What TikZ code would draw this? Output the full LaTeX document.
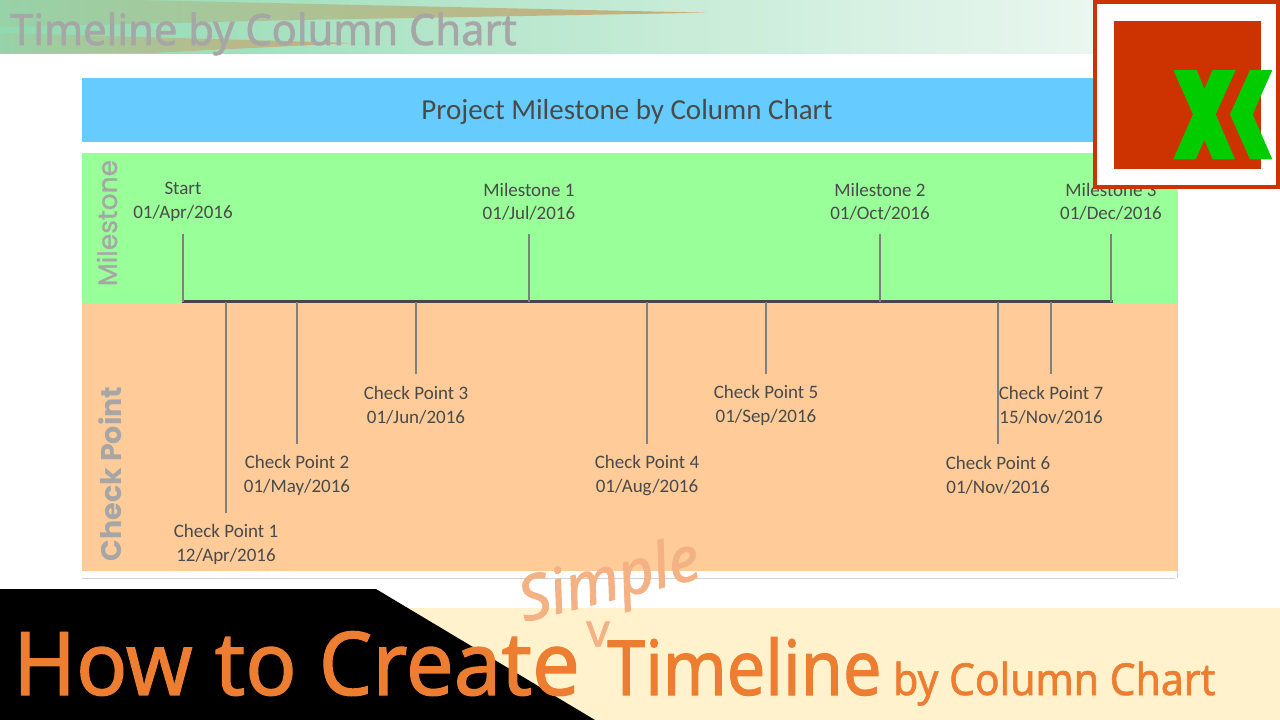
\documentclass[tikz,border=0pt]{standalone}
\usepackage{fontspec}
\setmainfont{Carlito}
\newfontfamily\headfont[FakeBold=1.4]{Noto Sans}
\newfontfamily\sidefont[FakeBold=1.0]{Poppins}
\newfontfamily\checkfont{Poppins}
\definecolor{bandblue}{HTML}{66CCFF}
\definecolor{bandgreen}{HTML}{99FF99}
\definecolor{bandorange}{HTML}{FFCC99}
\definecolor{logored}{HTML}{CC3300}
\definecolor{logogreen}{HTML}{00CC00}
\definecolor{titleorange}{HTML}{ED7D31}
\definecolor{paleorange}{HTML}{F4B183}
\definecolor{cream}{HTML}{FFF2CC}
\definecolor{sidegrey}{HTML}{A6A6A6}
\definecolor{inkgrey}{HTML}{4A4A4A}
\definecolor{topleft}{HTML}{8FD9B0}
\definecolor{topright}{HTML}{EAF7F0}
\definecolor{wedgeleft}{HTML}{98D2A8}
\definecolor{wedgeright}{HTML}{C9AC78}
\tikzset{
  datebox/.style={inner sep=0pt, minimum height=63pt, align=center, text=inkgrey,
    font=\fontsize{19}{23.5}\selectfont},
  stem/.style={draw=black!50, line width=1.4pt},
  sidetext/.style={rotate=90, text=sidegrey, inner sep=0pt},
  bighead/.style={text=titleorange, inner sep=0pt, anchor=base west}
}
\begin{document}
\begin{tikzpicture}[x=1pt, y=-1pt]
\useasboundingbox (0,0) rectangle (1280,720);
\fill[white] (0,0) rectangle (1280,720);

% top band
\shade[left color=topleft, right color=topright] (0,0) rectangle (1100,53);
\shade[left color=wedgeleft, right color=wedgeright]
  (0,-3) -- (707,12.7) -- (300,20) -- (0,27) -- cycle;
\shade[left color=wedgeleft, right color=wedgeright]
  (0,33) -- (353,43) -- (150,53) -- (0,53) -- cycle;
\node[text=sidegrey, inner sep=0pt, anchor=base west, xscale=0.97] (bandtitle) at (10,45)
  {\headfont\fontsize{43}{43}\selectfont Timeline by Column Chart};

% chart panels
\fill[bandblue] (82,78) rectangle (1177,142);
\fill[bandgreen] (82,153) rectangle (1177,303);
\fill[bandorange] (82,303) rectangle (1177,571);
\draw[black!18, line width=1pt] (82,578.5) -- (1175,578.5);
\draw[black!18, line width=1pt] (1177.5,190) -- (1177.5,578);
\node[text=inkgrey, inner sep=0pt] (charttitle) at (627,112)
  {\fontsize{29}{30}\selectfont Project Milestone by Column Chart};
\node[sidetext, font=\sidefont\fontsize{26.5}{27}\selectfont] (sidemile) at (107,223) {Milestone};
\node[sidetext, font=\checkfont\bfseries\fontsize{28.5}{28}\selectfont] (sidecheck) at (110,474) {Check Point};

% axis
\coordinate (axisl) at (182,301.5);
\coordinate (axisr) at (1113,301.5);
\draw[black!72, line width=2.4pt] (axisl) -- (axisr);

% milestones
\node[datebox] (start) at (183,202) {Start\\01/Apr/2016};
\node[datebox] (mileone) at (529,202) {Milestone 1\\01/Jul/2016};
\node[datebox] (miletwo) at (880,202) {Milestone 2\\01/Oct/2016};
\node[datebox] (milethree) at (1111,202) {Milestone 3\\01/Dec/2016};
\draw[stem] (start.south) -- (start.south |- axisl);
\draw[stem] (mileone.south) -- (mileone.south |- axisl);
\draw[stem] (miletwo.south) -- (miletwo.south |- axisl);
\draw[stem] (milethree.south) -- (milethree.south |- axisl);

% check points
\node[datebox] (cpone) at (226,544.5) {Check Point 1\\12/Apr/2016};
\node[datebox] (cptwo) at (297,475.5) {Check Point 2\\01/May/2016};
\node[datebox] (cpthree) at (416,405.5) {Check Point 3\\01/Jun/2016};
\node[datebox] (cpfour) at (647,475.5) {Check Point 4\\01/Aug/2016};
\node[datebox] (cpfive) at (766,405.5) {Check Point 5\\01/Sep/2016};
\node[datebox] (cpsix) at (998,475.5) {Check Point 6\\01/Nov/2016};
\node[datebox] (cpseven) at (1051,405.5) {Check Point 7\\15/Nov/2016};
\draw[stem] (cpone.north) -- (cpone.north |- axisl);
\draw[stem] (cptwo.north) -- (cptwo.north |- axisl);
\draw[stem] (cpthree.north) -- (cpthree.north |- axisl);
\draw[stem] (cpfour.north) -- (cpfour.north |- axisl);
\draw[stem] (cpfive.north) -- (cpfive.north |- axisl);
\draw[stem] (cpsix.north) -- (cpsix.north |- axisl);
\draw[stem] (cpseven.north) -- (cpseven.north |- axisl);

% logo
\draw[logored, fill=white, line width=4pt] (1095,2) rectangle (1278,187);
\fill[logored] (1114,21) rectangle (1261,169);
\fill[logogreen] (1173.3,70) -- (1196.7,70) -- (1204.3,89) -- (1212.7,70) -- (1235.7,70)
  -- (1215.7,114.3) -- (1235,159.3) -- (1212.7,159.3) -- (1204.3,140) -- (1195.7,159.3)
  -- (1173.3,159.3) -- (1193,114.3) -- cycle;
\fill[logogreen] (1250,70) -- (1272.3,70) -- (1252.7,114.3) -- (1272.3,159.3)
  -- (1250,159.3) -- (1230,114.3) -- cycle;

% bottom strip
\fill[cream] (376,608) rectangle (1280,720);
\fill[black] (0,589) -- (376,589) -- (595,720) -- (0,720) -- cycle;
\node[bighead, xscale=0.965] (howto) at (13,695)
  {\headfont\fontsize{88}{88}\selectfont How to Create};
\node[bighead, xscale=0.9] (timeline) at (607,695)
  {\headfont\fontsize{76}{76}\selectfont Timeline};
\node[bighead, xscale=0.93] (bycolumn) at (893,695)
  {\headfont\fontsize{44}{44}\selectfont by Column Chart};
\node[text=paleorange, inner sep=0pt, rotate=14] (simple) at (610,584)
  {\headfont\itshape\fontsize{62}{62}\selectfont Simple};
\node[text=paleorange, inner sep=0pt] (caret) at (598,634)
  {\headfont\fontsize{46}{46}\selectfont v};
\end{tikzpicture}
\end{document}
